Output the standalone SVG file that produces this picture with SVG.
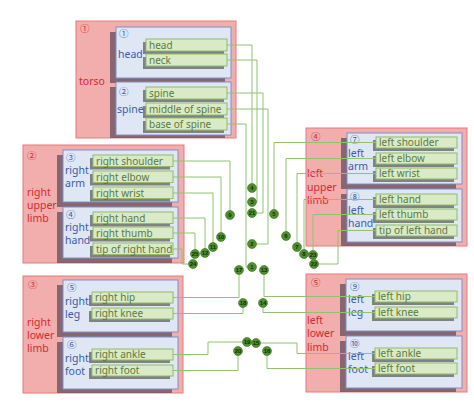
<svg xmlns="http://www.w3.org/2000/svg" width="474" height="413" viewBox="0 0 474 413">
<style>
.red{fill:#f2adad;stroke:#e37a7a;stroke-width:1}
.blue{fill:#dfe7f5;stroke:#7f90c6;stroke-width:1}
.bsh{fill:#6b5262;opacity:.8}
.leaf{fill:#daeac6;stroke:#8fbc6c;stroke-width:1}
.lsh{fill:#6e6e6e;opacity:.85}
.lt{font-family:"Noto Sans","Open Sans",sans-serif;font-size:10px;fill:#5a7a3e}
.rl{font-family:"Noto Sans","Noto Sans CJK JP",sans-serif;font-size:10.5px;fill:#d42a2f}
.bl{font-family:"Noto Sans","Noto Sans CJK JP",sans-serif;font-size:10.5px;fill:#3d5aa8}
.cn{font-family:"Noto Sans CJK JP","DejaVu Sans",sans-serif;font-size:9.5px}
.wire{fill:none;stroke:#92c270;stroke-width:1}
.dot{fill:#4f8f2f;stroke:#3d7522;stroke-width:.6}
.dn{font-family:"Liberation Sans",Arial,sans-serif;font-size:6px;font-weight:bold;fill:#142e06;text-anchor:middle}
</style>
<rect width="474" height="413" fill="#ffffff"/>

<g id="torso">
<rect class="red" x="76" y="21" width="160" height="117"/>
<text class="rl cn" x="80" y="32">①</text>
<text class="rl" x="79" y="85">torso</text>
<g id="head-group">
<rect class="bsh" x="110" y="32" width="115" height="51"/>
<rect class="blue" x="116" y="27" width="115" height="51"/>
<text class="bl cn" x="119" y="37">①</text>
<text class="bl" x="118" y="58">head</text>
<g id="leaf-head"><rect class="lsh" x="143" y="42" width="81" height="12"/><rect class="leaf" x="146" y="39" width="81" height="12"/><text class="lt" x="149" y="48.5">head</text></g>
<g id="leaf-neck"><rect class="lsh" x="143" y="57" width="81" height="12"/><rect class="leaf" x="146" y="54" width="81" height="12"/><text class="lt" x="149" y="63.5">neck</text></g>
</g>
<g id="spine-group">
<rect class="bsh" x="110" y="87" width="115" height="51"/>
<rect class="blue" x="116" y="82" width="115" height="53"/>
<text class="bl cn" x="119" y="95">②</text>
<text class="bl" x="117" y="113">spine</text>
<g id="leaf-spine"><rect class="lsh" x="143" y="90" width="81" height="12"/><rect class="leaf" x="146" y="87" width="81" height="12"/><text class="lt" x="149" y="96.5">spine</text></g>
<g id="leaf-mid-spine"><rect class="lsh" x="143" y="106" width="81" height="12"/><rect class="leaf" x="146" y="103" width="81" height="12"/><text class="lt" x="149" y="112.5">middle of spine</text></g>
<g id="leaf-base-spine"><rect class="lsh" x="143" y="121" width="81" height="12"/><rect class="leaf" x="146" y="118" width="81" height="12"/><text class="lt" x="149" y="127.5">base of spine</text></g>
</g>
</g>

<g id="right-upper-limb">
<rect class="red" x="23" y="145" width="161" height="118"/>
<text class="rl cn" x="27" y="159">②</text>
<text class="rl" x="27" y="196">right</text>
<text class="rl" x="27" y="209">upper</text>
<text class="rl" x="27" y="222">limb</text>
<g id="right-arm">
<rect class="bsh" x="57" y="155" width="115" height="52"/>
<rect class="blue" x="63" y="150" width="115" height="52"/>
<text class="bl cn" x="66" y="161">③</text>
<text class="bl" x="65" y="174">right</text>
<text class="bl" x="65" y="187">arm</text>
<g id="leaf-r-shoulder"><rect class="lsh" x="90" y="158" width="80" height="11.5"/><rect class="leaf" x="93" y="155" width="80" height="11.5"/><text class="lt" x="96" y="164.5">right shoulder</text></g>
<g id="leaf-r-elbow"><rect class="lsh" x="90" y="174" width="80" height="11.5"/><rect class="leaf" x="93" y="171" width="80" height="11.5"/><text class="lt" x="96" y="180.5">right elbow</text></g>
<g id="leaf-r-wrist"><rect class="lsh" x="90" y="190" width="80" height="11.5"/><rect class="leaf" x="93" y="187" width="80" height="11.5"/><text class="lt" x="96" y="196.5">right wrist</text></g>
</g>
<g id="right-hand">
<rect class="bsh" x="57" y="212" width="115" height="51"/>
<rect class="blue" x="63" y="207" width="115" height="51"/>
<text class="bl cn" x="66" y="218">④</text>
<text class="bl" x="65" y="231">right</text>
<text class="bl" x="65" y="244">hand</text>
<g id="leaf-r-hand"><rect class="lsh" x="90" y="215" width="80" height="11.5"/><rect class="leaf" x="93" y="212" width="80" height="11.5"/><text class="lt" x="96" y="221.5">right hand</text></g>
<g id="leaf-r-thumb"><rect class="lsh" x="90" y="230" width="80" height="11.5"/><rect class="leaf" x="93" y="227" width="80" height="11.5"/><text class="lt" x="96" y="236.5">right thumb</text></g>
<g id="leaf-r-tip"><rect class="lsh" x="90" y="246" width="80" height="11.5"/><rect class="leaf" x="93" y="243" width="80" height="11.5"/><text class="lt" x="96" y="252.5">tip of right hand</text></g>
</g>
</g>

<g id="right-lower-limb">
<rect class="red" x="23" y="276" width="160" height="117"/>
<text class="rl cn" x="28" y="288">③</text>
<text class="rl" x="27" y="326">right</text>
<text class="rl" x="27" y="339">lower</text>
<text class="rl" x="27" y="352">limb</text>
<g id="right-leg">
<rect class="bsh" x="57" y="285" width="115" height="52"/>
<rect class="blue" x="63" y="280" width="115" height="52"/>
<text class="bl cn" x="67" y="291">⑤</text>
<text class="bl" x="65" y="305">right</text>
<text class="bl" x="65" y="318">leg</text>
<g id="leaf-r-hip"><rect class="lsh" x="89" y="295" width="81" height="11"/><rect class="leaf" x="92" y="292" width="81" height="11"/><text class="lt" x="95" y="301">right hip</text></g>
<g id="leaf-r-knee"><rect class="lsh" x="89" y="311" width="81" height="11"/><rect class="leaf" x="92" y="308" width="81" height="11"/><text class="lt" x="95" y="317">right knee</text></g>
</g>
<g id="right-foot">
<rect class="bsh" x="57" y="342" width="115" height="51"/>
<rect class="blue" x="63" y="337" width="115" height="52"/>
<text class="bl cn" x="67" y="348">⑥</text>
<text class="bl" x="65" y="362">right</text>
<text class="bl" x="65" y="375">foot</text>
<g id="leaf-r-ankle"><rect class="lsh" x="89" y="352" width="81" height="11"/><rect class="leaf" x="92" y="349" width="81" height="11"/><text class="lt" x="95" y="358">right ankle</text></g>
<g id="leaf-r-foot"><rect class="lsh" x="89" y="368" width="81" height="11"/><rect class="leaf" x="92" y="365" width="81" height="11"/><text class="lt" x="95" y="374">right foot</text></g>
</g>
</g>

<g id="left-upper-limb">
<rect class="red" x="306" y="128" width="161" height="118"/>
<text class="rl cn" x="311" y="140">④</text>
<text class="rl" x="307" y="177">left</text>
<text class="rl" x="307" y="191">upper</text>
<text class="rl" x="307" y="204">limb</text>
<g id="left-arm">
<rect class="bsh" x="341" y="138" width="115" height="51"/>
<rect class="blue" x="347" y="133" width="115" height="51"/>
<text class="bl cn" x="350" y="143">⑦</text>
<text class="bl" x="348" y="157">left</text>
<text class="bl" x="348" y="170">arm</text>
<g id="leaf-l-shoulder"><rect class="lsh" x="373" y="140" width="81" height="11"/><rect class="leaf" x="376" y="137" width="81" height="11"/><text class="lt" x="379" y="146">left shoulder</text></g>
<g id="leaf-l-elbow"><rect class="lsh" x="373" y="156" width="81" height="11"/><rect class="leaf" x="376" y="153" width="81" height="11"/><text class="lt" x="379" y="162">left elbow</text></g>
<g id="leaf-l-wrist"><rect class="lsh" x="373" y="171" width="81" height="11"/><rect class="leaf" x="376" y="168" width="81" height="11"/><text class="lt" x="379" y="177">left wrist</text></g>
</g>
<g id="left-hand">
<rect class="bsh" x="341" y="194" width="115" height="52"/>
<rect class="blue" x="347" y="189" width="115" height="53"/>
<text class="bl cn" x="350" y="200">⑧</text>
<text class="bl" x="348" y="214">left</text>
<text class="bl" x="348" y="227">hand</text>
<g id="leaf-l-hand"><rect class="lsh" x="373" y="197" width="81" height="11"/><rect class="leaf" x="376" y="194" width="81" height="11"/><text class="lt" x="379" y="203">left hand</text></g>
<g id="leaf-l-thumb"><rect class="lsh" x="373" y="212" width="81" height="11"/><rect class="leaf" x="376" y="209" width="81" height="11"/><text class="lt" x="379" y="218">left thumb</text></g>
<g id="leaf-l-tip"><rect class="lsh" x="373" y="228" width="81" height="11"/><rect class="leaf" x="376" y="225" width="81" height="11"/><text class="lt" x="379" y="234">tip of left hand</text></g>
</g>
</g>

<g id="left-lower-limb">
<rect class="red" x="306" y="274" width="161" height="118"/>
<text class="rl cn" x="311" y="286">⑤</text>
<text class="rl" x="307" y="324">left</text>
<text class="rl" x="307" y="337">lower</text>
<text class="rl" x="307" y="351">limb</text>
<g id="left-leg">
<rect class="bsh" x="340" y="284" width="116" height="52"/>
<rect class="blue" x="346" y="279" width="116" height="52"/>
<text class="bl cn" x="350" y="290">⑨</text>
<text class="bl" x="348" y="303">left</text>
<text class="bl" x="348" y="316">leg</text>
<g id="leaf-l-hip"><rect class="lsh" x="372" y="294" width="82" height="11"/><rect class="leaf" x="375" y="291" width="82" height="11"/><text class="lt" x="378" y="300">left hip</text></g>
<g id="leaf-l-knee"><rect class="lsh" x="372" y="310" width="82" height="11"/><rect class="leaf" x="375" y="307" width="82" height="11"/><text class="lt" x="378" y="316">left knee</text></g>
</g>
<g id="left-foot">
<rect class="bsh" x="340" y="341" width="116" height="51"/>
<rect class="blue" x="346" y="336" width="116" height="52"/>
<text class="bl cn" x="350" y="347">⑩</text>
<text class="bl" x="348" y="360">left</text>
<text class="bl" x="348" y="373">foot</text>
<g id="leaf-l-ankle"><rect class="lsh" x="372" y="351" width="82" height="11"/><rect class="leaf" x="375" y="348" width="82" height="11"/><text class="lt" x="378" y="357">left ankle</text></g>
<g id="leaf-l-foot"><rect class="lsh" x="372" y="366" width="82" height="11"/><rect class="leaf" x="375" y="363" width="82" height="11"/><text class="lt" x="378" y="372">left foot</text></g>
</g>
</g>

<g id="connectors" class="wire">
<path d="M227,45H252V184"/>
<path d="M227,60H257V202H252"/>
<path d="M227,93H263V213H252"/>
<path d="M227,109H268V244H252"/>
<path d="M227,124H246V267H252"/>
<path d="M173,161H230V215"/>
<path d="M173,177H221V237"/>
<path d="M173,193H213V247"/>
<path d="M173,218H205V253"/>
<path d="M173,233H195V254"/>
<path d="M173,249H182V264H193"/>
<path d="M376,142.5H274V214"/>
<path d="M376,158.5H286V236"/>
<path d="M376,173.5H297V247"/>
<path d="M376,199.5H304V254"/>
<path d="M376,214.5H313V255"/>
<path d="M376,230.5H338V264H314"/>
<path d="M173,297.5H239V270"/>
<path d="M173,313.5H243V303"/>
<path d="M173,354.5H208V342H247"/>
<path d="M173,370.5H238V351"/>
<path d="M375,296.5H264V270"/>
<path d="M375,312.5H263V303"/>
<path d="M375,353.5H297V343H256"/>
<path d="M375,368.5H267V351"/>
</g>

<g id="joints">
<g id="j4"><circle class="dot" cx="252" cy="188" r="4.5"/><text class="dn" x="252" y="190.2">4</text></g>
<g id="j3"><circle class="dot" cx="252" cy="202" r="4.5"/><text class="dn" x="252" y="204.2">3</text></g>
<g id="j21"><circle class="dot" cx="252" cy="213" r="4.5"/><text class="dn" x="252" y="215.2">21</text></g>
<g id="j2"><circle class="dot" cx="252" cy="244" r="4.5"/><text class="dn" x="252" y="246.2">2</text></g>
<g id="j1"><circle class="dot" cx="252" cy="267" r="4.5"/><text class="dn" x="252" y="269.2">1</text></g>
<g id="j9"><circle class="dot" cx="230" cy="215" r="4.5"/><text class="dn" x="230" y="217.2">9</text></g>
<g id="j10"><circle class="dot" cx="221" cy="237" r="4.5"/><text class="dn" x="221" y="239.2">10</text></g>
<g id="j11"><circle class="dot" cx="213" cy="247" r="4.5"/><text class="dn" x="213" y="249.2">11</text></g>
<g id="j12"><circle class="dot" cx="205" cy="253" r="4.5"/><text class="dn" x="205" y="255.2">12</text></g>
<g id="j25"><circle class="dot" cx="195" cy="254" r="4.5"/><text class="dn" x="195" y="256.2">25</text></g>
<g id="j24"><circle class="dot" cx="193" cy="264" r="4.5"/><text class="dn" x="193" y="266.2">24</text></g>
<g id="j5"><circle class="dot" cx="274" cy="214" r="4.5"/><text class="dn" x="274" y="216.2">5</text></g>
<g id="j6"><circle class="dot" cx="286" cy="236" r="4.5"/><text class="dn" x="286" y="238.2">6</text></g>
<g id="j7"><circle class="dot" cx="297" cy="247" r="4.5"/><text class="dn" x="297" y="249.2">7</text></g>
<g id="j8"><circle class="dot" cx="304" cy="254" r="4.5"/><text class="dn" x="304" y="256.2">8</text></g>
<g id="j23"><circle class="dot" cx="313" cy="255" r="4.5"/><text class="dn" x="313" y="257.2">23</text></g>
<g id="j22"><circle class="dot" cx="314" cy="264" r="4.5"/><text class="dn" x="314" y="266.2">22</text></g>
<g id="j17"><circle class="dot" cx="239" cy="270" r="4.5"/><text class="dn" x="239" y="272.2">17</text></g>
<g id="j13"><circle class="dot" cx="264" cy="270" r="4.5"/><text class="dn" x="264" y="272.2">13</text></g>
<g id="j18"><circle class="dot" cx="243" cy="303" r="4.5"/><text class="dn" x="243" y="305.2">18</text></g>
<g id="j14"><circle class="dot" cx="263" cy="303" r="4.5"/><text class="dn" x="263" y="305.2">14</text></g>
<g id="j19"><circle class="dot" cx="247" cy="342" r="4.5"/><text class="dn" x="247" y="344.2">19</text></g>
<g id="j15"><circle class="dot" cx="256" cy="343" r="4.5"/><text class="dn" x="256" y="345.2">15</text></g>
<g id="j20"><circle class="dot" cx="238" cy="351" r="4.5"/><text class="dn" x="238" y="353.2">20</text></g>
<g id="j16"><circle class="dot" cx="267" cy="351" r="4.5"/><text class="dn" x="267" y="353.2">16</text></g>
</g>
</svg>
